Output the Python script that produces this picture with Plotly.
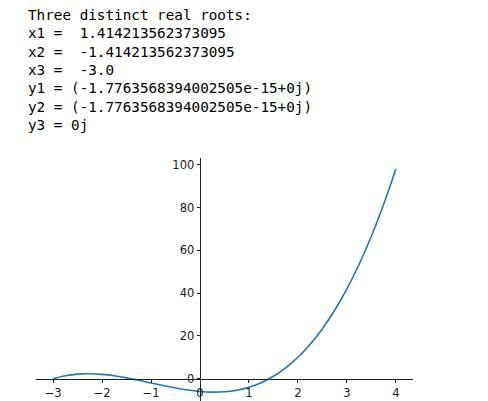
import plotly.graph_objects as go

# Output text lines (printed above the chart)
text_lines = [
    "Three distinct real roots:",
    "x1 =  1.414213562373095",
    "x2 =  -1.414213562373095",
    "x3 =  -3.0",
    "y1 = (-1.7763568394002505e-15+0j)",
    "y2 = (-1.7763568394002505e-15+0j)",
    "y3 = 0j",
]

# Curve samples
x_vals = [-3.0, -2.75, -2.5, -2.25, -2.0, -1.75, -1.5, -1.25, -1.0, -0.75, -0.5, -0.25,
          0.0, 0.25, 0.5, 0.75, 1.0, 1.25, 1.5, 1.75, 2.0, 2.25, 2.5, 2.75, 3.0, 3.25,
          3.5, 3.75, 4.0]
y_vals = [0.0, 1.39, 2.13, 2.30, 2.0, 1.33, 0.38, -0.77, -2.0, -3.23, -4.38, -5.33,
          -6.0, -6.30, -6.13, -5.39, -4.0, -1.86, 1.13, 5.05, 10.0, 16.08, 23.38, 31.98,
          42.0, 53.52, 66.63, 81.42, 98.0]

x_ticks = [-3, -2, -1, 0, 1, 2, 3, 4]
y_ticks = [0, 20, 40, 60, 80, 100]

x_range = [-3.35, 4.35]
y_range = [-10.44, 103.2]

OFF = 8  # page body margin
W, H = 488 - OFF, 401 - OFF
L, R, T, B = 36 - OFF, 75, 158 - OFF, 0
plot_w = W - L - R
plot_h = H - T - B

fig = go.Figure()
fig.add_trace(go.Scatter(x=x_vals, y=y_vals, mode="lines",
                         line=dict(color="#1f77b4", width=1.6, shape="spline"),
                         hoverinfo="skip", showlegend=False))

axis_font = dict(family="DejaVu Sans", size=11.5, color="#1a1a1a")

fig.update_layout(
    width=W, height=H,
    margin=dict(l=L, r=R, t=T, b=B, autoexpand=False),
    paper_bgcolor="white", plot_bgcolor="white",
    xaxis=dict(range=x_range, tickvals=x_ticks, ticks="outside", ticklen=3.5,
               tickwidth=0.8, tickcolor="#222222", showline=True, linecolor="#222222",
               linewidth=0.9, showgrid=False, zeroline=False, anchor="free",
               position=(0 - y_range[0]) / (y_range[1] - y_range[0]),
               tickfont=axis_font, automargin=False),
    yaxis=dict(range=y_range, tickvals=y_ticks, ticks="outside", ticklen=3.5,
               tickwidth=0.8, tickcolor="#222222", showline=True, linecolor="#222222",
               linewidth=0.9, showgrid=False, zeroline=False, anchor="free",
               position=(0 - x_range[0]) / (x_range[1] - x_range[0]),
               tickfont=axis_font, automargin=False),
)

line_y0 = 15.2 - OFF
line_step = 18.3
for i, s in enumerate(text_lines):
    py = line_y0 + i * line_step
    fig.add_annotation(
        x=(27 - OFF - L) / plot_w, y=(H - B - py) / plot_h, xref="paper", yref="paper",
        text=s.replace(" ", "\u00a0"), showarrow=False, xanchor="left", yanchor="middle",
        borderpad=0,
        font=dict(family="DejaVu Sans Mono", size=14.3, color="#000000"),
    )

fig.write_html("out.html")
